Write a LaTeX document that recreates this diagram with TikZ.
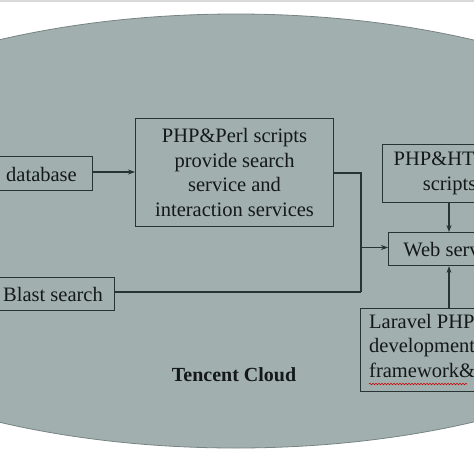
\documentclass[tikz,border=0pt]{standalone}
\usepackage{fontspec}
\setmainfont{Liberation Serif}
\usetikzlibrary{arrows.meta,decorations.pathmorphing}
\definecolor{cloudfill}{RGB}{161,175,174}
\definecolor{cloudedge}{RGB}{120,132,132}
\definecolor{boxline}{RGB}{40,52,52}
\definecolor{txt}{RGB}{20,24,24}
\tikzset{
  box/.style={draw=boxline, line width=1.1pt, inner sep=0pt, text=txt, font=\fontsize{20.5}{24.5}\selectfont},
  conn/.style={draw=boxline, line width=1.1pt},
  arr/.style={conn, -{Stealth[length=7pt,width=5pt]}}
}
\begin{document}
\begin{tikzpicture}[x=1pt,y=-1pt]
\useasboundingbox (0,0) rectangle (474,474);
\begin{scope}
\clip (0,0) rectangle (474,474);
\fill[white] (0,0) rectangle (474,474);
\fill[black!15] (0,0) rectangle (474,2);
\draw[fill=cloudfill, draw=cloudedge, line width=0.8pt] (236,231) ellipse [x radius=500, y radius=217];
% nodes
\node[box, minimum width=102pt, minimum height=34pt, anchor=north west] (db) at (-10,156) {};
\node[anchor=west, text=txt, font=\fontsize{20.5}{24.5}\selectfont, inner sep=0pt] (dbt) at (6,174) {database};
\node[box, minimum width=124pt, minimum height=33pt, anchor=north west] (bl) at (-10,277) {};
\node[anchor=west, text=txt, font=\fontsize{20.5}{24.5}\selectfont, inner sep=0pt] (blt) at (3,294) {Blast search};
\node[box, minimum width=198pt, minimum height=108pt, anchor=north west, align=center] (pp) at (135,118) {PHP\&Perl scripts\\provide search\\service and\\interaction services};
\node[box, minimum width=134pt, minimum height=58pt, anchor=north west, align=center] (ph) at (382,144) {PHP\&HTML\\scripts};
\node[box, minimum width=122pt, minimum height=33pt, anchor=north west] (ws) at (388,232) {Web server};
\node[box, minimum width=160pt, minimum height=83pt, anchor=north west] (lv) at (360,308) {};
\node[anchor=north west, align=left, text=txt, font=\fontsize{20.5}{24.5}\selectfont, inner sep=0pt] (lvt) at (369,314) {Laravel PHP\\development\\framework\&};
\node[text=txt, font=\bfseries\fontsize{20}{24}\selectfont, inner sep=0pt] (tc) at (234,375) {Tencent Cloud};
\draw[red!80!black, line width=0.6pt, decorate, decoration={snake, amplitude=0.7pt, segment length=3pt}] (369,384) -- (467,384);
% connectors
\coordinate (j1) at (361,173);
\coordinate (j2) at (361,247.5);
\coordinate (j3) at (361,292);
\draw[arr] (db.east |- 0,172) -- (pp.west |- 0,172);
\draw[conn] (pp.east |- j1) -- (j1) -- (j3);
\draw[conn] (bl.east |- j3) -- (j3);
\draw[arr] (j2) -- (ws.west |- j2);
\draw[arr] (ph.south -| 449,0) -- (ws.north -| 449,0);
\draw[arr] (lv.north -| 449,0) -- (ws.south -| 449,0);
\end{scope}
\end{tikzpicture}
\end{document}
